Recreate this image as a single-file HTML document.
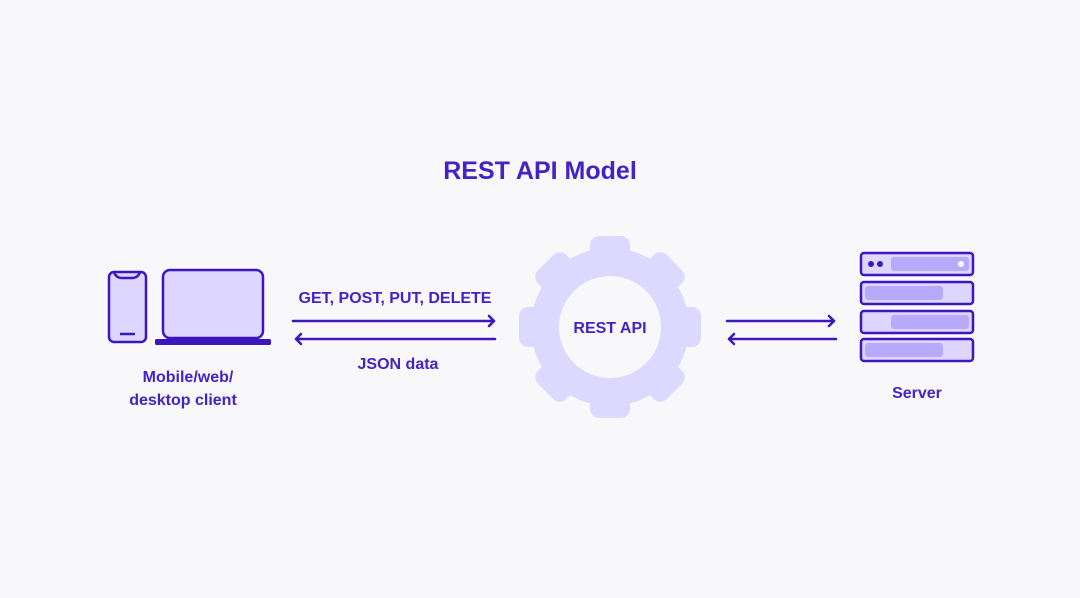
<!DOCTYPE html>
<html><head><meta charset="utf-8"><style>
html,body{margin:0;padding:0;background:#f8f8fb;}
svg{display:block}
text{font-family:"Liberation Sans",sans-serif;fill:#4422c4;font-weight:bold}
</style></head><body>
<svg width="1080" height="598" viewBox="0 0 1080 598" xmlns="http://www.w3.org/2000/svg">
<rect width="1080" height="598" fill="#f8f8fb"/>
<text x="540" y="179" font-size="25" text-anchor="middle" fill="#4a26c8">REST API Model</text>

<!-- phone -->
<rect x="109" y="272" width="37" height="70" rx="5" fill="#ddd6fe" stroke="#3c18bc" stroke-width="2.5"/>
<path d="M114 272 q2 6 8 6 h10 q6 0 8 -6" fill="none" stroke="#3c18bc" stroke-width="2.5"/>
<line x1="120" y1="334" x2="135" y2="334" stroke="#3c18bc" stroke-width="2.5"/>
<!-- laptop -->
<rect x="163" y="270" width="100" height="68" rx="7" fill="#ddd6fe" stroke="#3c18bc" stroke-width="2.5"/>
<rect x="155" y="339" width="116" height="6" rx="1.5" fill="#3c18bc"/>
<text x="188" y="382" font-size="16" text-anchor="middle">Mobile/web/</text>
<text x="183" y="405" font-size="16" text-anchor="middle">desktop client</text>

<!-- arrows -->
<text x="395" y="303" font-size="16" text-anchor="middle">GET, POST, PUT, DELETE</text>
<g stroke="#3c18bc" stroke-width="2.5" fill="none" stroke-linecap="round" stroke-linejoin="round">
<line x1="293" y1="321" x2="494" y2="321"/><polyline points="489,316 494,321 489,326"/>
<line x1="296" y1="339" x2="495" y2="339"/><polyline points="301,334 296,339 301,344"/>
<line x1="727" y1="321" x2="834" y2="321"/><polyline points="829,316 834,321 829,326"/>
<line x1="729" y1="339" x2="836" y2="339"/><polyline points="734,334 729,339 734,344"/>
</g>
<text x="398" y="369" font-size="16" text-anchor="middle">JSON data</text>

<!-- gear -->
<g fill="#ddd8fe" transform="translate(610,327)">
<circle r="79"/>
<rect x="-20" y="-91" width="40" height="30" rx="9"/>
<rect x="-20" y="-91" width="40" height="30" rx="9" transform="rotate(45)"/>
<rect x="-20" y="-91" width="40" height="30" rx="9" transform="rotate(90)"/>
<rect x="-20" y="-91" width="40" height="30" rx="9" transform="rotate(135)"/>
<rect x="-20" y="-91" width="40" height="30" rx="9" transform="rotate(180)"/>
<rect x="-20" y="-91" width="40" height="30" rx="9" transform="rotate(225)"/>
<rect x="-20" y="-91" width="40" height="30" rx="9" transform="rotate(270)"/>
<rect x="-20" y="-91" width="40" height="30" rx="9" transform="rotate(315)"/>
<circle r="51" fill="#f8f8fb"/>
</g>
<text x="610" y="333" font-size="16" text-anchor="middle">REST API</text>

<!-- server -->
<g stroke="#3c18bc" stroke-width="2.5" fill="#ddd6fe">
<rect x="861" y="253" width="112" height="22" rx="3"/>
<rect x="861" y="282" width="112" height="22" rx="3"/>
<rect x="861" y="311" width="112" height="22" rx="3"/>
<rect x="861" y="339" width="112" height="22" rx="3"/>
</g>
<g fill="#b8aafb">
<rect x="891" y="257" width="78" height="14" rx="3"/>
<rect x="865" y="286" width="78" height="14" rx="3"/>
<rect x="891" y="315" width="78" height="14" rx="3"/>
<rect x="865" y="343" width="78" height="14" rx="3"/>
</g>
<circle cx="871" cy="264" r="3" fill="#3c18bc"/>
<circle cx="880" cy="264" r="3" fill="#3c18bc"/>
<circle cx="961" cy="264" r="3" fill="#fff"/>
<text x="917" y="398" font-size="16" text-anchor="middle">Server</text>
</svg>
</body></html>
